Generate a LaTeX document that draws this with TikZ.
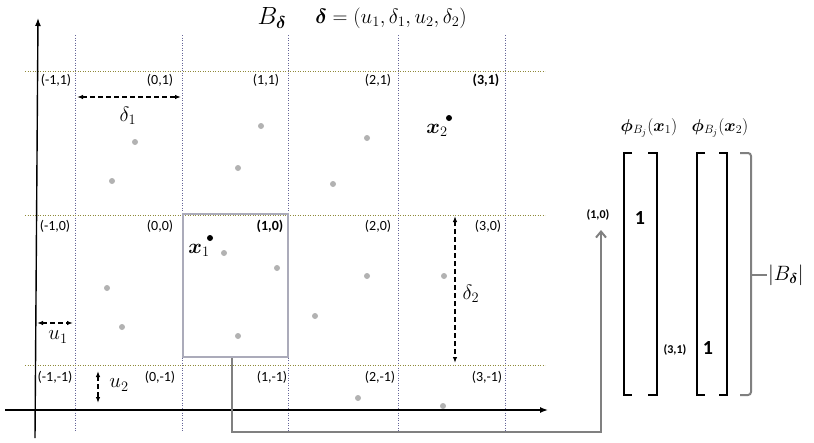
\documentclass[tikz,border=0pt]{standalone}
\usepackage{amsmath,bm}
\usepackage{fontspec}
\newfontfamily\lab{Carlito}
\usetikzlibrary{arrows.meta}
\begin{document}
\begin{tikzpicture}[x=1pt,y=-1pt,
  grid/.style={dotted,gray!80!blue,line width=0.5pt},
  hgrid/.style={dotted,olive!60!gray,line width=0.5pt},
  lbl/.style={font=\lab\fontsize{14}{16}\selectfont,inner sep=0},
  blbl/.style={font=\lab\bfseries\fontsize{14}{16}\selectfont,inner sep=0},
  mth/.style={font=\fontsize{21}{24}\selectfont,inner sep=0},
  gp/.style={fill=gray!60,draw=none},
  dimarr/.style={dash pattern=on 5pt off 3pt,line width=1.6pt,{Latex[length=6pt]}-{Latex[length=6pt]}},
  axis/.style={line width=1.4pt,-{Latex[length=8pt]}},
  conn/.style={draw=gray,line width=2pt},
  brk/.style={line width=1.5pt}]
\useasboundingbox (0,0) rectangle (814,442);
\foreach \x in {75,182,288,398,505} \draw[grid] (\x,35) -- (\x,432);
\foreach \y in {71,215,365} \draw[hgrid] (25,\y) -- (545,\y);
\coordinate (yb) at (35,438); \coordinate (yt) at (38,18);
\coordinate (xl) at (5,410); \coordinate (xr) at (548,410);
\draw[axis] (yb) -- (yt);
\draw[axis] (xl) -- (xr);
\node[lbl] at (56,80) {(-1,1)}; \node[lbl] at (160,80) {(0,1)};
\node[lbl] at (266,80) {(1,1)}; \node[lbl] at (378,80) {(2,1)};
\node[blbl] at (486,80) {(3,1)};
\node[lbl] at (55,226) {(-1,0)}; \node[lbl] at (160,226) {(0,0)};
\node[blbl] at (270,226) {(1,0)}; \node[lbl] at (378,226) {(2,0)};
\node[lbl] at (488,226) {(3,0)};
\node[lbl] at (55,377) {(-1,-1)}; \node[lbl] at (160,377) {(0,-1)};
\node[lbl] at (272,377) {(1,-1)}; \node[lbl] at (380,377) {(2,-1)};
\node[lbl] at (487,377) {(3,-1)};
\foreach \p in {(135,142),(112,181),(261,126),(238,168),(367,138),(333,184),
  (107,288),(122,327),(224,253),(277,268),(238,336),(367,276),(315,316),
  (444,276),(358,398),(443,406)} \fill[gp] \p circle (3);
\node[draw=gray!90!blue!60,line width=2pt,minimum width=105,minimum height=143,inner sep=0] (box) at (235.5,285.5) {};
\fill (210,238) circle (3); \node[mth] at (199,250) {$\bm{x}_1$};
\fill (449,118) circle (3); \node[mth] at (437,130) {$\bm{x}_2$};
\coordinate (d1a) at (77,97); \coordinate (d1b) at (181,97);
\draw[dimarr] (d1a) -- (d1b); \node[mth] at (128,116) {$\delta_1$};
\coordinate (d2a) at (455,216); \coordinate (d2b) at (455,363);
\draw[dimarr] (d2a) -- (d2b); \node[mth] at (471,294) {$\delta_2$};
\coordinate (u1a) at (37,323); \coordinate (u1b) at (73,323);
\draw[dimarr,line width=1.3pt] (u1a) -- (u1b); \node[mth] at (58,337) {$u_1$};
\coordinate (u2a) at (98,371); \coordinate (u2b) at (98,403);
\draw[dimarr,line width=1.3pt] (u2a) -- (u2b); \node[mth] at (119,385) {$u_2$};
\node[font=\fontsize{26}{28}\selectfont] at (272,18) {$B_{\bm{\delta}}$};
\node[font=\fontsize{22}{24}\selectfont] at (391,18) {$\bm{\delta}=(u_1,\delta_1,u_2,\delta_2)$};
\node[font=\fontsize{18}{20}\selectfont] at (649,128) {$\bm{\phi}_{B_j}(\bm{x}_1)$};
\node[font=\fontsize{18}{20}\selectfont] at (720,128) {$\bm{\phi}_{B_j}(\bm{x}_2)$};
\draw[brk] (632,153) -| (624,395) -- (632,395);
\draw[brk] (648,153) -| (657,395) -- (648,395);
\draw[brk] (705,153) -| (697,395) -- (705,395);
\draw[brk] (719,153) -| (727,395) -- (719,395);
\node[font=\lab\bfseries\fontsize{20}{22}\selectfont] at (640,218) {1};
\node[font=\lab\bfseries\fontsize{20}{22}\selectfont] at (708,348) {1};
\node[font=\lab\bfseries\fontsize{12}{14}\selectfont] (t10) at (598,215) {(1,0)};
\node[font=\lab\bfseries\fontsize{12}{14}\selectfont] at (675,350) {(3,1)};
\draw[conn,rounded corners=3] (740,153) -- (751,153) -- (751,395) -- (740,395);
\coordinate (bm) at (751,275); \coordinate (bt) at (767,275);
\draw[conn] (bm) -- (bt);
\node[font=\fontsize{20}{22}\selectfont,anchor=west,inner sep=1] at (bt) {$|B_{\bm{\delta}}|$};
\coordinate (arrend) at (601,230);
\draw[conn,-{Straight Barb[length=6pt,width=10pt]}] (box.south -| 232,0) -- (232,432) -- (601,432) -- (arrend);
\end{tikzpicture}
\end{document}
